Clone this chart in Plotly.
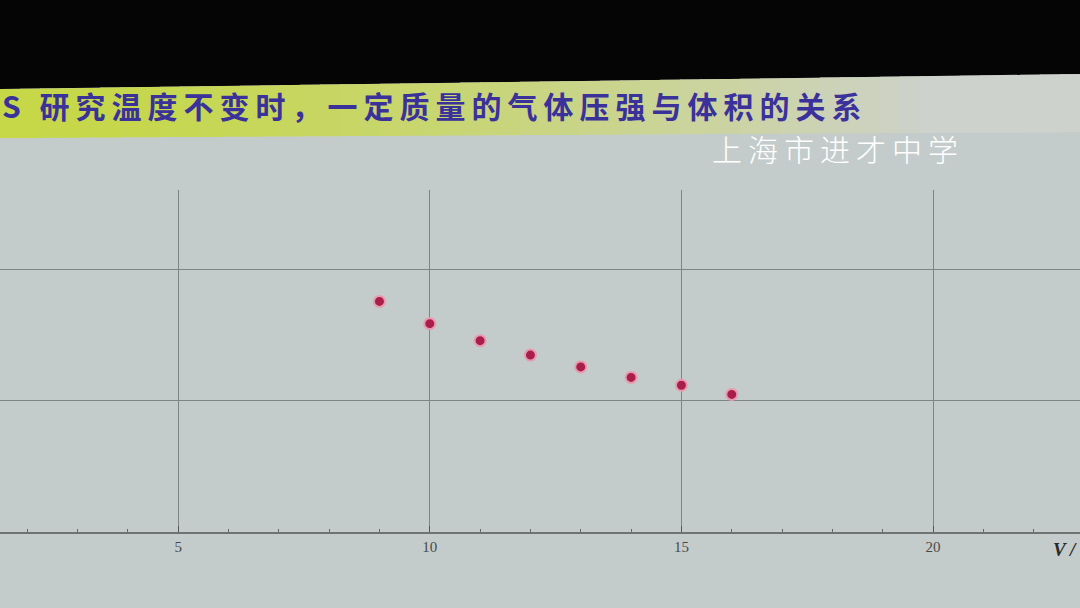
import plotly.graph_objects as go

# data
volume = [9, 10, 11, 12, 13, 14, 15, 16]
pressure = [1.76, 1.59, 1.46, 1.35, 1.26, 1.18, 1.12, 1.05]
x_ticks = [5, 10, 15, 20]
x_tick_labels = ["5", "10", "15", "20"]
y_grid = [1, 2]
title_text = "S 研究温度不变时，一定质量的气体压强与体积的关系"
school_text = "上海市进才中学"
axis_label = "V /"

W, H = 1080, 608
TOP, BOT = 190, 532  # plot area pixel rows


def py(p):
    """pixel row -> paper y"""
    return (BOT - p) / (BOT - TOP)


def px(p):
    return p / W


def spaced(s, sep="\u2009"):
    return sep.join(list(s))


fig = go.Figure()
fig.add_trace(go.Scatter(
    x=volume, y=pressure, mode="markers",
    marker=dict(size=11, color="#a81f4b", line=dict(color="#e99ab0", width=2)),
    showlegend=False, hoverinfo="x+y",
))

shapes = []
# black top band (slightly slanted)
shapes.append(dict(type="path", xref="paper", yref="paper",
                   path=f"M {px(0)},{py(0)} L {px(W)},{py(0)} L {px(W)},{py(74)} L {px(0)},{py(89)} Z",
                   fillcolor="#050505", line=dict(width=0), layer="below"))
# green title band with horizontal gradient (strips)
n = 54
c0 = (198, 216, 72)
c1 = (206, 210, 204)
for i in range(n):
    x0 = W * i / n
    x1 = W * (i + 1) / n + 1
    t = min(1.0, (i / n) / 0.85) ** 1.5
    col = tuple(int(c0[k] + (c1[k] - c0[k]) * t) for k in range(3))
    top = 89 - 15 * (x0 / W)
    bot = 138 - 6 * (x0 / W)
    shapes.append(dict(type="rect", xref="paper", yref="paper",
                       x0=px(x0), x1=px(x1), y0=py(bot), y1=py(top),
                       fillcolor=f"rgb{col}", line=dict(width=0), layer="below"))

annotations = [
    dict(text=f"<b>{spaced(title_text)}</b>", xref="paper", yref="paper",
         x=px(0), y=py(105), xanchor="left", yanchor="middle", showarrow=False,
         font=dict(family="Noto Sans CJK SC", size=30, color="#3a319a")),
    dict(text=spaced(school_text, "\u2009"), xref="paper", yref="paper",
         x=px(710), y=py(148), xanchor="left", yanchor="middle", showarrow=False,
         font=dict(family="Noto Sans CJK SC", size=30, color="#ffffff", weight=300)),
    dict(text=f"<b><i>{axis_label}</i></b>", xref="paper", yref="paper",
         x=px(1079), y=py(549), xanchor="right", yanchor="middle", showarrow=False,
         font=dict(family="Liberation Serif", size=19, color="#2a2a2a")),
]

bg = "#c4cccb"
fig.update_layout(
    width=W, height=H,
    margin=dict(l=0, r=0, t=TOP, b=H - BOT, pad=0),
    paper_bgcolor=bg, plot_bgcolor=bg,
    shapes=shapes, annotations=annotations,
    showlegend=False,
    xaxis=dict(range=[1.46, 22.92], tickvals=x_ticks, ticktext=x_tick_labels,
               showgrid=True, gridcolor="#7d8584", gridwidth=1,
               showline=True, linecolor="#6e7473", linewidth=2,
               ticks="inside", ticklen=6, tickcolor="#555", tickwidth=1,
               minor=dict(dtick=1, ticks="inside", ticklen=3, tickcolor="#666", showgrid=False),
               tickfont=dict(family="Liberation Serif", size=15, color="#4a4a4a"),
               zeroline=False, fixedrange=True),
    yaxis=dict(range=[0, 2.61], tickvals=y_grid, showticklabels=False,
               showgrid=True, gridcolor="#7d8584", gridwidth=1,
               showline=False, zeroline=False, ticks=""),
)

fig.write_html("out.html", config={"displayModeBar": False},
               post_script="document.body.style.margin='0';document.body.style.overflow='hidden';")
